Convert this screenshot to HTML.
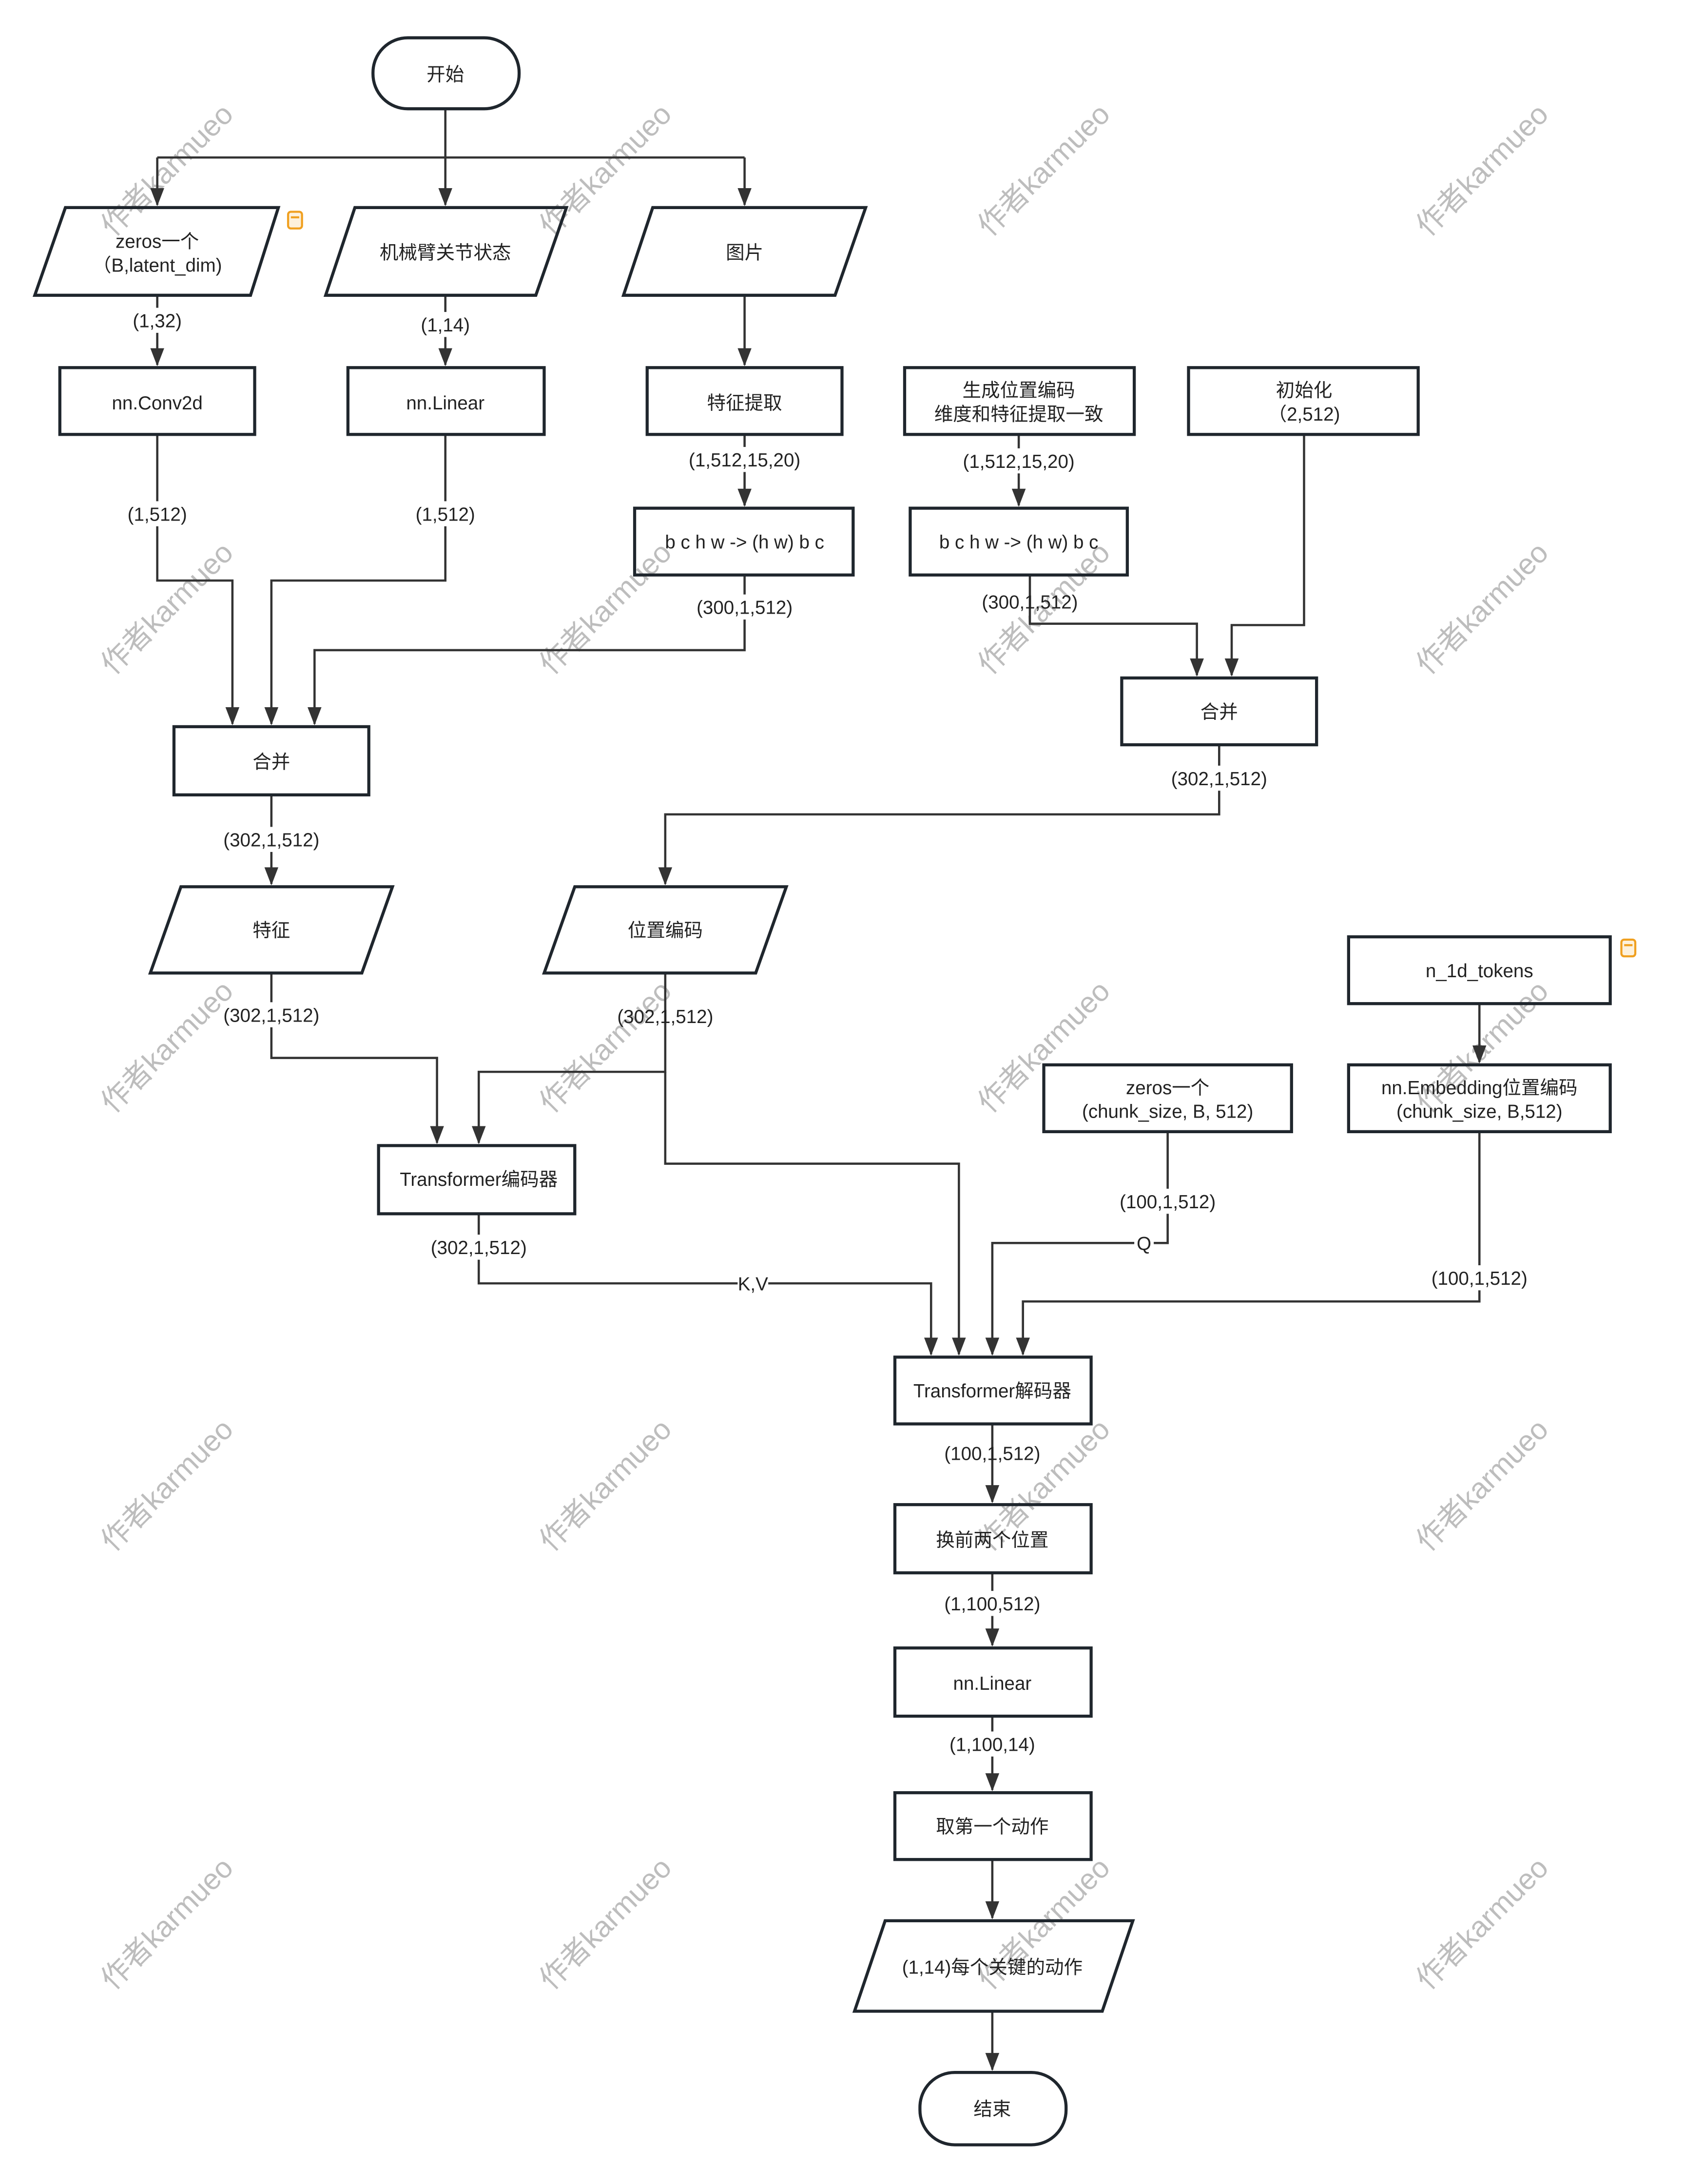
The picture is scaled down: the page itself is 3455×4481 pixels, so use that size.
<!DOCTYPE html>
<html><head><meta charset="utf-8"><style>
html,body{margin:0;padding:0;background:#fff}
svg{display:block}
text{font-family:"Liberation Sans","Noto Sans CJK SC",sans-serif;font-size:13.5px;fill:#222}
.b{fill:none;stroke:#1f262d;stroke-width:2.2}
.c{fill:none;stroke:#333;stroke-width:1.6}
.l{fill:#fff;stroke:none}
.w text{fill:#bdbdbd;font-size:21px}
</style></head><body>
<svg width="3455" height="4481" viewBox="0 0 1210 1569" xmlns="http://www.w3.org/2000/svg">
<defs>
<marker id="d" markerWidth="10" markerHeight="13" refX="5" refY="12" markerUnits="userSpaceOnUse" viewBox="0 0 10 13"><path d="M0,0 L5,13 L10,0 Z" fill="#333"/></marker></defs>

<!-- watermarks -->
<g class="w" text-anchor="middle">
<text transform="translate(125,127) rotate(-45)">作者karmueo</text>
<text transform="translate(440,127) rotate(-45)">作者karmueo</text>
<text transform="translate(755,127) rotate(-45)">作者karmueo</text>
<text transform="translate(1070,127) rotate(-45)">作者karmueo</text>
<text transform="translate(125,442) rotate(-45)">作者karmueo</text>
<text transform="translate(440,442) rotate(-45)">作者karmueo</text>
<text transform="translate(755,442) rotate(-45)">作者karmueo</text>
<text transform="translate(1070,442) rotate(-45)">作者karmueo</text>
<text transform="translate(125,757) rotate(-45)">作者karmueo</text>
<text transform="translate(440,757) rotate(-45)">作者karmueo</text>
<text transform="translate(755,757) rotate(-45)">作者karmueo</text>
<text transform="translate(1070,757) rotate(-45)">作者karmueo</text>
<text transform="translate(125,1072) rotate(-45)">作者karmueo</text>
<text transform="translate(440,1072) rotate(-45)">作者karmueo</text>
<text transform="translate(755,1072) rotate(-45)">作者karmueo</text>
<text transform="translate(1070,1072) rotate(-45)">作者karmueo</text>
<text transform="translate(125,1387) rotate(-45)">作者karmueo</text>
<text transform="translate(440,1387) rotate(-45)">作者karmueo</text>
<text transform="translate(755,1387) rotate(-45)">作者karmueo</text>
<text transform="translate(1070,1387) rotate(-45)">作者karmueo</text>
</g>

<!-- connectors -->
<g class="c">
<path d="M320,78 V113 M113,113 H535"/>
<path d="M113,113 V147" marker-end="url(#d)"/>
<path d="M320,113 V147" marker-end="url(#d)"/>
<path d="M535,113 V147" marker-end="url(#d)"/>
<path d="M113,212 V262" marker-end="url(#d)"/>
<path d="M320,212 V262" marker-end="url(#d)"/>
<path d="M535,212 V262" marker-end="url(#d)"/>
<path d="M535,312 V363" marker-end="url(#d)"/>
<path d="M732,312 V363" marker-end="url(#d)"/>
<path d="M113,312 V417 H167 V520" marker-end="url(#d)"/>
<path d="M320,312 V417 H195 V520" marker-end="url(#d)"/>
<path d="M535,413 V467 H226 V520" marker-end="url(#d)"/>
<path d="M740,413 V448 H860 V485" marker-end="url(#d)"/>
<path d="M937,312 V449 H885 V485" marker-end="url(#d)"/>
<path d="M876,535 V585 H478 V635" marker-end="url(#d)"/>
<path d="M195,571 V635" marker-end="url(#d)"/>
<path d="M195,699 V760 H314 V821" marker-end="url(#d)"/>
<path d="M478,699 V770 H344 V821" marker-end="url(#d)"/>
<path d="M478,770 V836 H689 V973" marker-end="url(#d)"/>
<path d="M344,872 V922 H669 V973" marker-end="url(#d)"/>
<path d="M839,813 V893 H713 V973" marker-end="url(#d)"/>
<path d="M1063,721 V763" marker-end="url(#d)"/>
<path d="M1063,813 V935 H735 V973" marker-end="url(#d)"/>
<path d="M713,1023 V1079" marker-end="url(#d)"/>
<path d="M713,1130 V1182" marker-end="url(#d)"/>
<path d="M713,1233 V1286" marker-end="url(#d)"/>
<path d="M713,1336 V1378" marker-end="url(#d)"/>
<path d="M713,1445 V1487" marker-end="url(#d)"/>
</g>

<!-- shapes -->
<rect class="b" x="268" y="27" width="105" height="51" rx="25"/>
<polygon class="b" points="47,149 200,149 180,212 25,212"/>
<polygon class="b" points="255,149 407,149 385,212 234,212"/>
<polygon class="b" points="469,149 622,149 600,212 448,212"/>
<rect class="b" x="43" y="264" width="140" height="48"/>
<rect class="b" x="250" y="264" width="141" height="48"/>
<rect class="b" x="465" y="264" width="140" height="48"/>
<rect class="b" x="650" y="264" width="165" height="48"/>
<rect class="b" x="854" y="264" width="165" height="48"/>
<rect class="b" x="456" y="365" width="157" height="48"/>
<rect class="b" x="654" y="365" width="156" height="48"/>
<rect class="b" x="125" y="522" width="140" height="49"/>
<rect class="b" x="806" y="487" width="140" height="48"/>
<polygon class="b" points="130,637 282,637 260,699 108,699"/>
<polygon class="b" points="413,637 565,637 543,699 391,699"/>
<rect class="b" x="272" y="823" width="141" height="49"/>
<rect class="b" x="750" y="765" width="178" height="48"/>
<rect class="b" x="969" y="673" width="188" height="48"/>
<rect class="b" x="969" y="765" width="188" height="48"/>
<rect class="b" x="643" y="975" width="141" height="48"/>
<rect class="b" x="643" y="1081" width="141" height="49"/>
<rect class="b" x="643" y="1184" width="141" height="49"/>
<rect class="b" x="643" y="1288" width="141" height="48"/>
<polygon class="b" points="636,1380 814,1380 792,1445 614,1445"/>
<rect class="b" x="661" y="1489" width="105" height="52" rx="25"/>

<!-- note icons -->
<rect x="207" y="152" width="10" height="12" rx="2" fill="#fdf1dc" stroke="#f0a020" stroke-width="1.5"/>
<line x1="209" y1="156" x2="215" y2="156" stroke="#f0a020" stroke-width="1.5"/>
<rect x="1165" y="675" width="10" height="12" rx="2" fill="#fdf1dc" stroke="#f0a020" stroke-width="1.5"/>
<line x1="1167" y1="679" x2="1173" y2="679" stroke="#f0a020" stroke-width="1.5"/>

<!-- box text -->
<g text-anchor="middle">
<text x="320" y="58">开始</text>
<text x="113" y="178">zeros一个</text>
<text x="113" y="195">（B,latent_dim)</text>
<text x="320" y="186">机械臂关节状态</text>
<text x="535" y="186">图片</text>
<text x="113" y="294">nn.Conv2d</text>
<text x="320" y="294">nn.Linear</text>
<text x="535" y="294">特征提取</text>
<text x="732" y="285">生成位置编码</text>
<text x="732" y="302">维度和特征提取一致</text>
<text x="937" y="285">初始化</text>
<text x="937" y="302">（2,512)</text>
<text x="535" y="394">b c h w -&gt; (h w) b c</text>
<text x="732" y="394">b c h w -&gt; (h w) b c</text>
<text x="195" y="552">合并</text>
<text x="876" y="516">合并</text>
<text x="195" y="673">特征</text>
<text x="478" y="673">位置编码</text>
<text x="344" y="852">Transformer编码器</text>
<text x="839" y="786">zeros一个</text>
<text x="839" y="803">(chunk_size, B, 512)</text>
<text x="1063" y="702">n_1d_tokens</text>
<text x="1063" y="786">nn.Embedding位置编码</text>
<text x="1063" y="803">(chunk_size, B,512)</text>
<text x="713" y="1004">Transformer解码器</text>
<text x="713" y="1111">换前两个位置</text>
<text x="713" y="1214">nn.Linear</text>
<text x="713" y="1317">取第一个动作</text>
<text x="713" y="1418">(1,14)每个关键的动作</text>
<text x="713" y="1520">结束</text>
</g>

<!-- edge labels -->
<g text-anchor="middle">
<rect class="l" x="93" y="221" width="40" height="18"/><text x="113" y="235">(1,32)</text>
<rect class="l" x="300" y="224" width="40" height="18"/><text x="320" y="238">(1,14)</text>
<rect class="l" x="90" y="360" width="46" height="18"/><text x="113" y="374">(1,512)</text>
<rect class="l" x="297" y="360" width="46" height="18"/><text x="320" y="374">(1,512)</text>
<rect class="l" x="493" y="321" width="84" height="18"/><text x="535" y="335">(1,512,15,20)</text>
<rect class="l" x="690" y="322" width="84" height="18"/><text x="732" y="336">(1,512,15,20)</text>
<rect class="l" x="500" y="427" width="70" height="18"/><text x="535" y="441">(300,1,512)</text>
<text x="740" y="437">(300,1,512)</text>
<rect class="l" x="841" y="550" width="70" height="18"/><text x="876" y="564">(302,1,512)</text>
<rect class="l" x="160" y="594" width="70" height="18"/><text x="195" y="608">(302,1,512)</text>
<rect class="l" x="160" y="720" width="70" height="18"/><text x="195" y="734">(302,1,512)</text>
<text x="478" y="735">(302,1,512)</text>
<rect class="l" x="309" y="887" width="70" height="18"/><text x="344" y="901">(302,1,512)</text>
<rect class="l" x="530" y="914" width="22" height="16"/><text x="541" y="927">K,V</text>
<rect class="l" x="804" y="854" width="70" height="18"/><text x="839" y="868">(100,1,512)</text>
<rect class="l" x="815" y="885" width="14" height="16"/><text x="822" y="898">Q</text>
<rect class="l" x="1028" y="909" width="70" height="18"/><text x="1063" y="923">(100,1,512)</text>
<text x="713" y="1049">(100,1,512)</text>
<rect class="l" x="678" y="1143" width="70" height="18"/><text x="713" y="1157">(1,100,512)</text>
<rect class="l" x="682" y="1244" width="62" height="18"/><text x="713" y="1258">(1,100,14)</text>
</g>
</svg>
</body></html>
